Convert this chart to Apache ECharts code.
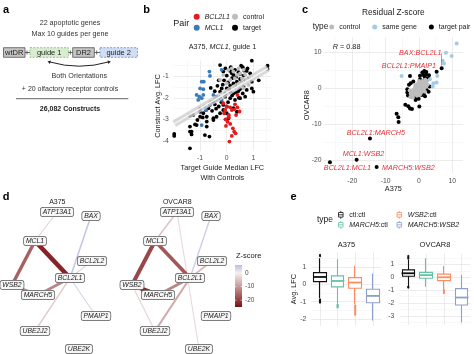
<!DOCTYPE html>
<html>
<head>
<meta charset="utf-8">
<title>Figure</title>
<script src="https://cdn.jsdelivr.net/npm/echarts@6.0.0/dist/echarts.min.js"></script>
<style>
  html, body { margin: 0; padding: 0; background: #fff; }
  #main { width: 474px; height: 354px; }
</style>
</head>
<body>
<div id="main"></div>
<script>
var FONT = 'Liberation Sans';
var TICK = '#4d4d4d';
var MAJOR = '#e4e4e4';
var MINOR = '#f0f0f0';
var LABEL_RED = '#e5323a';

// ---- b: construct LFC vs target guide median LFC (A375, MCL1, guide 1)
var bTarget = [[-0.25,-0.5],[0.54,-0.53],[0.94,-0.3],[1.53,-0.53],[1.53,-0.68],[0.13,-0.77],[-0.13,-0.8],[0,-0.98],[0.19,-0.88],[0.31,-0.72],[0.44,-0.83],[0.75,-0.77],[0.88,-0.88],[0.63,-0.98],[0.82,-1.11],[0.5,-1.14],[0.38,-1.26],[0.25,-1.34],[0.13,-1.44],[0,-1.57],[-0.19,-1.57],[-0.25,-1.72],[0.13,-1.72],[0.25,-1.8],[0.44,-1.69],[0.63,-1.49],[0.75,-1.64],[0.94,-1.26],[0.94,-1.57],[1.0,-1.72],[0.69,-1.95],[0.5,-2.02],[0.31,-2.1],[0.13,-2.02],[-0.06,-1.95],[-0.25,-2.02],[-0.38,-1.95],[-0.5,-2.18],[-0.63,-2.33],[-0.69,-2.48],[-0.78,-2.56],[-0.88,-2.71],[-1.0,-2.64],[-1.26,-2.79],[-1.38,-2.83],[-1.38,-3.55],[-1.32,-3.68],[-1.19,-3.22],[-1.13,-3.25],[-0.75,-2.87],[-0.75,-3.09],[-0.75,-3.32],[-0.82,-3.71],[-0.5,-2.94],[-0.25,-2.71],[-0.13,-2.56],[-0.13,-2.33],[0.25,-2.48],[0.38,-2.64],[0,-2.71],[0.06,-2.94],[-1.38,-4.32],[-1.97,-3.66],[-1.97,-3.75],[-1.38,-3.32],[-1.32,-3.55],[-0.65,-3.78],[-1.0,-2.87],[-1.1,-3.02],[-0.38,-2.87],[-0.5,-3.02],[-0.1,-1.2],[0.05,-1.3],[0.2,-1.1],[0.3,-1.5],[0.4,-1.4],[0.5,-1.6],[0.55,-1.3],[0.6,-1.8],[0.7,-1.2],[0.1,-1.6],[-0.05,-1.8],[-0.15,-1.4],[0.2,-1.9],[0.35,-1.75],[0.45,-2.0],[0.05,-2.2],[-0.2,-2.2],[-0.3,-2.4],[-0.4,-2.5],[-0.45,-2.3],[0.15,-0.6],[0.25,-0.95],[0.35,-1.05],[0.5,-0.9],[0.65,-0.75],[0.78,-0.65],[-0.05,-0.65],[0.0,-2.4],[-0.55,-2.6],[-0.6,-2.2],[-0.9,-2.9],[-1.0,-2.5],[1.2,-1.2],[0.6,-0.6],[-0.3,-1.2],[-0.35,-1.45],[-0.45,-1.7],[-0.6,-1.55]];
var bControl = [[0.06,-0.72],[0.19,-0.65],[0.25,-0.8],[0.38,-0.95],[0.5,-0.88],[0.63,-0.72],[0.69,-0.95],[0.75,-1.18],[0.57,-1.34],[0.44,-1.41],[0.31,-1.11],[0.13,-1.18],[0.25,-1.49],[0.63,-1.57],[0.82,-1.41],[0.88,-1.03],[-0.13,-0.95],[0.44,-0.65],[0.57,-1.11],[0,-1.34],[-0.25,-1.18]];
var bBCL2L1 = [[0,-2.41],[0.13,-2.44],[0.28,-2.53],[0.4,-2.44],[-0.1,-2.71],[0.08,-2.79],[0.35,-2.79],[-0.05,-2.99],[0.03,-3.1],[0.13,-3.2],[-0.03,-3.29],[0.23,-3.4],[0.28,-3.55],[0.33,-3.63],[0.1,-4.01],[0.19,-3.75],[0.48,-2.63],[0.4,-1.87],[-0.06,-2.56],[0.19,-2.56],[0.08,-2.9],[-0.13,-2.25],[0.31,-2.3]];
var bMCL1 = [[-0.65,-0.8],[-0.63,-1.0],[-0.94,-1.26],[-0.86,-1.26],[-1.0,-1.57],[-0.88,-1.61],[-1.13,-1.87],[-1.03,-1.95],[-0.94,-2.02],[-1.07,-2.1],[-0.88,-1.87],[-0.5,-1.87],[-0.44,-2.02],[-0.38,-2.1],[-0.31,-1.95],[-0.82,-2.4],[-0.78,-2.56],[-0.94,-3.25],[-0.19,-2.1],[-0.63,-2.25],[-0.19,-0.72]];
var bFitX = [-1.97, 1.55];
var bFitY = [-3.19, -0.65];
var bMinorX = [-1.5, -0.5, 0.5, 1.5];
var bMinorY = [-3.5, -2.5, -1.5, -0.5];

// ---- c: residual z-scores, A375 vs OVCAR8
var cTarget = [[-2.7,3.4],[0.3,3.5],[1.3,3.7],[2.1,3.9],[1.8,3.1],[2.5,2.5],[0.3,2.5],[1.3,2.1],[-1.7,1.9],[-2.5,1.4],[-3.5,-0.3],[-3.5,-1.2],[-2.5,-1.6],[-1.9,-2.3],[-0.7,-2.5],[-0.1,-2.9],[0.8,-1.9],[1.5,-1.4],[2.3,-0.5],[2.9,-1.0],[-4.1,-4.6],[-3.2,-5.0],[-2.7,-5.6],[-2.1,-5.8],[0.1,-5.1],[-6.7,-7.1],[-6.2,-8.1],[-6.1,-9.4],[3.2,0.5],[2.8,2.8],[-3.0,1.0],[-1.0,-3.3],[1.8,-2.2],[-3.3,-2.0],[2.2,4.5],[3.0,3.6],[1.0,4.4],[1.6,4.8]];
var cControl = [[-2.5,-1.5],[-2.2,-0.8],[-2,-2],[-1.8,-1.2],[-1.6,-0.4],[-1.5,-1.8],[-1.3,-0.9],[-1.2,0.2],[-1,-1.4],[-0.9,-0.3],[-0.8,0.8],[-0.6,-2.1],[-0.5,-0.8],[-0.4,0.4],[-0.3,1.3],[-0.2,-1.5],[-0.1,-0.2],[0,0.9],[0.1,-0.9],[0.2,0.3],[0.3,1.6],[0.4,-0.5],[0.5,0.8],[0.6,-1.3],[0.7,0.1],[0.8,1.2],[0.9,-0.3],[1,2],[1.1,0.6],[1.2,-0.8],[1.3,1.4],[1.4,0.1],[1.6,1.9],[1.7,0.8],[1.9,2.4],[2,1.3],[2.2,0.4],[2.4,2.0],[-1.9,-2.6],[-2.6,-2.4],[-0.7,-1.6],[0.3,-1.8],[1.5,-0.4],[-1.1,1.0],[0.0,2.0],[2.6,1.0],[-2.8,-0.6],[1.8,-1.0]];
var cSameGene = [[11.3,12.5],[8.1,9.9],[9.8,9.0],[7.1,7.7],[7.5,6.9],[-5.2,3.4],[5.5,3.4],[4.3,1.4],[5.3,1.6],[4.1,0.5],[3.3,2.5]];
var cPairNames = ['BAX:BCL2L1','BCL2L1:PMAIP1','BCL2L1:MARCH5','MCL1:WSB2','BCL2L1:MCL1','MARCH5:WSB2'];
var cPairPoints = [[6.8,5.6],[5.3,4.6],[-14.7,-14.0],[-18.7,-19.9],[-26.7,-20.6],[-12.7,-21.9]];
var cMinorX = [-25, -15, -5, 5];
var cMinorY = [-15, -5, 5];

// ---- d: interaction networks
var nodeNames = ['ATP13A1','BAX','MCL1','BCL2L2','BCL2L1','WSB2','MARCH5','PMAIP1','UBE2J2','UBE2K'];
var nodeX = [57, 91, 35, 92, 70, 12, 38, 96, 35, 79];
var nodeY = [212, 216, 241, 261, 278, 285, 295, 316, 331, 349];
var a375From = ['ATP13A1','BCL2L2','UBE2J2','BAX','PMAIP1','WSB2','MARCH5','MCL1','MCL1'];
var a375To   = ['MCL1','BCL2L1','BCL2L1','BCL2L1','BCL2L1','MARCH5','BCL2L1','WSB2','BCL2L1'];
var a375Z    = [-3, -3, -4, 5, 3, -12, -12, -16, -23];
var ovFrom = ['ATP13A1','ATP13A1','WSB2','BAX','BCL2L2','UBE2J2','MARCH5','MCL1','MCL1','WSB2'];
var ovTo   = ['MCL1','UBE2K','UBE2J2','BCL2L1','BCL2L1','BCL2L1','BCL2L1','BCL2L1','WSB2','MARCH5'];
var ovZ    = [-5, -2.5, -3, 4, -6, -8, -12, -17, -19, -22];
var zTicks = [0, -10, -20];

// ---- e: box plots of avg LFC
var boxTypes = ['ctl:ctl','MARCH5:ctl','WSB2:ctl','MARCH5:WSB2'];
var boxColors = ['#111111','#66c2a5','#fc8d62','#8da0cb'];
// [min, Q1, median, Q3, max]
var a375Stats = [[-0.81,0.15,0.42,0.67,1.5],[-1.12,-0.15,0.19,0.48,1.44],[-1.15,-0.23,0.1,0.38,1.06],[-2.08,-1.06,-0.67,-0.29,0.62]];
var ovStats = [[-0.68,0.08,0.31,0.57,1.35],[-0.73,-0.08,0.17,0.38,1.48],[-0.94,-0.26,0.0,0.24,0.88],[-3.48,-2.15,-1.57,-0.88,0.18]];
var a375Out = [[1.62,1.68,-0.88,-0.93,-0.97,-1.01,-1.05],[-1.18,-1.23,-1.28,-1.33],[-1.22,-1.28,-1.35,-1.42,-1.5,-1.58,-1.66,-1.75],[]];
var ovOut = [[1.45,1.55,1.65,-0.74,-0.8],[],[-1.0,-1.07,-1.15,-1.22],[]];
var eMinorA375 = [-1.5, -0.5, 0.5, 1.5];
var eMinorOv = [-3.5, -2.5, -1.5, -0.5, 0.5, 1.5];

// colour scale of the network edges
var zStops = [-25, 0, 6];
var zStopColors = [[123,17,20],[245,240,240],[184,189,226]];
function zColor(z) {
  var i = z < 0 ? 0 : 1;
  var t = (z - zStops[i]) / (zStops[i + 1] - zStops[i]);
  var a = zStopColors[i], b = zStopColors[i + 1];
  return 'rgb(' + [0, 1, 2].map(function (k) { return Math.round(a[k] + (b[k] - a[k]) * t); }).join(',') + ')';
}
function edgeWidth(z) { return 0.7 + 0.17 * Math.abs(z); }

function valAxis(gi, min, max, margin, extra) {
  var ax = {
    type: 'value', gridIndex: gi, min: min, max: max,
    axisLine: { show: false }, axisTick: { show: false },
    axisLabel: { fontSize: 6.8, color: TICK, margin: margin, fontFamily: FONT, showMinLabel: false, showMaxLabel: false },
    splitLine: { show: true, showMinLine: false, showMaxLine: false, lineStyle: { color: MAJOR, width: 0.7 } },
    nameTextStyle: { fontSize: 7.3, color: '#1a1a1a', fontFamily: FONT },
    nameMoveOverlap: false
  };
  return Object.assign(ax, extra || {});
}
function catAxis(gi) {
  return {
    type: 'category', gridIndex: gi, data: boxTypes,
    axisLine: { show: false }, axisTick: { show: false }, axisLabel: { show: false }, splitLine: { show: false }
  };
}
function gridLines(xi, minorX, minorY, catX) {
  var d = [];
  minorX.forEach(function (v) { d.push({ xAxis: v, lineStyle: { color: MINOR, width: 0.5 } }); });
  minorY.forEach(function (v) { d.push({ yAxis: v, lineStyle: { color: MINOR, width: 0.5 } }); });
  catX.forEach(function (v) { d.push({ xAxis: v, lineStyle: { color: MAJOR, width: 0.7 } }); });
  return {
    type: 'scatter', xAxisIndex: xi, yAxisIndex: xi, data: [], silent: true,
    markLine: { silent: true, symbol: 'none', z: 1, label: { show: false }, animation: false,
      lineStyle: { type: 'solid' }, emphasis: { disabled: true }, data: d }
  };
}
function pts(name, data, color, xi, size, z) {
  return { type: 'scatter', name: name, xAxisIndex: xi, yAxisIndex: xi, data: data,
    symbolSize: size, itemStyle: { color: color, opacity: 1 }, z: z || 2, silent: true };
}
function italicGenes(name) {
  return name.split(':').map(function (p) { return (p === 'ctl' || p === 'control' || p === 'target') ? p : '{i|' + p + '}'; }).join(':');
}
function boxSeries(xi, stats, outs) {
  var s = [];
  s.push({
    type: 'candlestick', xAxisIndex: xi, yAxisIndex: xi, barWidth: 13, silent: true, z: 2,
    data: stats.map(function (v, i) {
      return { value: [v[1], v[3], v[0], v[4]],
        itemStyle: { color: '#fff', color0: '#fff', borderColor: boxColors[i], borderColor0: boxColors[i], borderWidth: 1.1 } };
    })
  });
  s.push({
    type: 'scatter', xAxisIndex: xi, yAxisIndex: xi, symbol: 'rect', symbolSize: [13.5, 1.8], silent: true, z: 4,
    data: stats.map(function (v, i) { return { value: [i, v[2]], itemStyle: { color: boxColors[i], opacity: 1 } }; })
  });
  var od = [];
  outs.forEach(function (arr, i) { arr.forEach(function (y) { od.push({ value: [i, y], itemStyle: { color: boxColors[i], opacity: 1 } }); }); });
  s.push({ type: 'scatter', xAxisIndex: xi, yAxisIndex: xi, symbolSize: 2.2, silent: true, z: 4, data: od });
  return s;
}
function network(left, from, to, zs) {
  return {
    type: 'graph', layout: 'none', left: left, top: 212, width: 84, height: 137, roam: false, silent: true,
    symbol: 'rect', symbolSize: 1, itemStyle: { color: 'rgba(0,0,0,0)' },
    label: { show: true, position: 'inside', formatter: '{b}', fontStyle: 'italic', fontSize: 6.8, fontFamily: FONT,
      color: '#222', backgroundColor: '#f6f6f6', borderColor: '#555', borderWidth: 0.7, borderRadius: 2.5,
      padding: [1, 2, 0.5, 2], lineHeight: 7 },
    lineStyle: { opacity: 1, curveness: 0 },
    emphasis: { disabled: true },
    data: nodeNames.map(function (n, i) { return { name: n, x: nodeX[i], y: nodeY[i] }; }),
    links: from.map(function (s, i) {
      return { source: s, target: to[i], lineStyle: { color: zColor(zs[i]), width: edgeWidth(zs[i]) } };
    })
  };
}
function txt(x, y, text, size, opts) {
  return { type: 'text', x: x, y: y, silent: true, z: 10,
    style: Object.assign({ text: text, fontSize: size, fontFamily: FONT, fill: '#1a1a1a', align: 'center', verticalAlign: 'middle' }, opts || {}) };
}

var chartDom = document.getElementById('main');
var myChart = echarts.init(chartDom, null, { renderer: 'canvas' });
var option;

var labelOffsets = [[-21.4, -15], [-27.7, -6.1], [5.9, -5.3], [6.8, -5.7], [17.5, 6], [31.7, 1.4]];
var legendText = { fontSize: 7, color: '#1a1a1a', fontFamily: FONT, lineHeight: 9,
  rich: { i: { fontStyle: 'italic', fontSize: 7, color: '#1a1a1a', fontFamily: FONT } } };
var boxIcon = 'path://M4,0L4,3M0,3L8,3L8,11L0,11ZM0,7L8,7M4,11L4,14';

var zGrad = new echarts.graphic.LinearGradient(0, 0, 0, 1, [
  { offset: 0, color: 'rgb(184,189,226)' },
  { offset: 6 / 31, color: 'rgb(245,240,240)' },
  { offset: 1, color: 'rgb(123,17,20)' }
]);
function zPos(z) { return 265 + (6 - z) * 42 / 31; }

var graphics = [
  // panel letters
  txt(6, 10, 'a', 11, { fontWeight: 'bold', fill: '#000' }),
  txt(146.5, 10, 'b', 11, { fontWeight: 'bold', fill: '#000' }),
  txt(305, 10, 'c', 11, { fontWeight: 'bold', fill: '#000' }),
  txt(6, 197, 'd', 11, { fontWeight: 'bold', fill: '#000' }),
  txt(293.5, 197, 'e', 11, { fontWeight: 'bold', fill: '#000' }),
  // panel a schematic
  txt(70, 23.3, '22 apoptotic genes', 7.2, { fill: '#333' }),
  txt(70, 34.5, 'Max 10 guides per gene', 7.2, { fill: '#333' }),
  { type: 'rect', shape: { x: 3.5, y: 47.7, width: 21.5, height: 9.6 }, style: { fill: '#c4c4c4', stroke: '#555', lineWidth: 0.8 } },
  { type: 'rect', shape: { x: 30, y: 47.7, width: 38.3, height: 9.6 }, style: { fill: '#d9ecd1', stroke: '#80c46e', lineWidth: 0.9, lineDash: [2, 1.4] } },
  { type: 'rect', shape: { x: 72.7, y: 47.7, width: 21.6, height: 9.6 }, style: { fill: '#c4c4c4', stroke: '#555', lineWidth: 0.8 } },
  { type: 'rect', shape: { x: 100, y: 47.7, width: 37.4, height: 9.6 }, style: { fill: '#d0ddf3', stroke: '#6d95d8', lineWidth: 0.9, lineDash: [2, 1.4] } },
  { type: 'line', shape: { x1: 25, y1: 52.5, x2: 30, y2: 52.5 }, style: { stroke: '#444', lineWidth: 0.8 } },
  { type: 'line', shape: { x1: 27, y1: 50.5, x2: 27, y2: 54.5 }, style: { stroke: '#444', lineWidth: 0.8 } },
  { type: 'line', shape: { x1: 68.3, y1: 52.5, x2: 72.7, y2: 52.5 }, style: { stroke: '#444', lineWidth: 0.8 } },
  { type: 'line', shape: { x1: 70.3, y1: 50.5, x2: 70.3, y2: 54.5 }, style: { stroke: '#444', lineWidth: 0.8 } },
  { type: 'line', shape: { x1: 94.3, y1: 52.5, x2: 100, y2: 52.5 }, style: { stroke: '#444', lineWidth: 0.8 } },
  { type: 'line', shape: { x1: 96.7, y1: 50.5, x2: 96.7, y2: 54.5 }, style: { stroke: '#444', lineWidth: 0.8 } },
  txt(14.2, 52.6, 'wtDR', 7.5, { fill: '#222' }),
  txt(49.2, 52.6, 'guide 1', 7.5, { fill: '#222' }),
  txt(83.5, 52.6, 'DR2', 7.5, { fill: '#222' }),
  txt(118.7, 52.6, 'guide 2', 7.5, { fill: '#222' }),
  { type: 'bezierCurve', shape: { x1: 49.5, y1: 61.9, x2: 108.8, y2: 61.9, cpx1: 79.2, cpy1: 70.5 }, style: { stroke: '#222', lineWidth: 1, fill: 'none' } },
  { type: 'polygon', shape: { points: [[47.5, 61.4], [50.9, 60.4], [49.9, 64.1]] }, style: { fill: '#222' } },
  { type: 'polygon', shape: { points: [[110.8, 61.4], [107.4, 60.4], [108.4, 64.1]] }, style: { fill: '#222' } },
  txt(79.3, 76, 'Both Orientations', 7.2, { fill: '#333' }),
  txt(70, 89, '+ 20 olfactory receptor controls', 7, { fill: '#333' }),
  { type: 'line', shape: { x1: 16, y1: 98.7, x2: 128.3, y2: 98.7 }, style: { stroke: '#666', lineWidth: 1 } },
  txt(70, 108.7, '26,082 Constructs', 7, { fill: '#222', fontWeight: 'bold' }),
  // panel b texts
  txt(181.3, 23.3, 'Pair', 9),
  txt(222.5, 46.8, 'A375, {i|MCL1}, guide 1', 7.2, { rich: { i: { fontStyle: 'italic', fontSize: 7.2, fontFamily: FONT, fill: '#1a1a1a' } } }),
  // panel c texts
  txt(393.3, 12.7, 'Residual Z-score', 8.3),
  txt(320.5, 27, 'type', 8.3),
  txt(332.7, 46.7, '{i|R} = 0.88', 7.3, { align: 'left', rich: { i: { fontStyle: 'italic', fontSize: 7.3, fontFamily: FONT, fill: '#1a1a1a' } } }),
  // panel d texts
  txt(57.3, 202.3, 'A375', 7),
  txt(177.3, 202.3, 'OVCAR8', 7),
  txt(236, 256, 'Z-score', 7.5, { align: 'left' }),
  { type: 'rect', shape: { x: 235, y: 265, width: 7, height: 42 }, style: { fill: zGrad } },
  // panel e texts
  txt(325, 219.8, 'type', 8.5),
  txt(346.4, 245, 'A375', 7.5),
  txt(435, 245, 'OVCAR8', 7.5)
];
zTicks.forEach(function (z) {
  var y = zPos(z);
  graphics.push({ type: 'line', shape: { x1: 235, y1: y, x2: 236.4, y2: y }, style: { stroke: '#fff', lineWidth: 0.6 } });
  graphics.push({ type: 'line', shape: { x1: 240.6, y1: y, x2: 242, y2: y }, style: { stroke: '#fff', lineWidth: 0.6 } });
  graphics.push(txt(245, y, String(z), 6.5, { align: 'left', fill: TICK }));
});

var series = [
  gridLines(0, bMinorX, bMinorY, []),
  pts('target', bTarget, '#000', 0, 3.8),
  pts('control', bControl, '#bdbdbd', 0, 3.8),
  pts('BCL2L1', bBCL2L1, '#e41a1c', 0, 3.8),
  pts('MCL1', bMCL1, '#3a7bb8', 0, 3.8),
  { type: 'line', xAxisIndex: 0, yAxisIndex: 0, data: bFitX.map(function (x, i) { return [x, bFitY[i]]; }),
    symbol: 'none', silent: true, z: 3, lineStyle: { color: '#cfcfcf', width: 7, opacity: 0.8, cap: 'butt' } },
  { type: 'line', xAxisIndex: 0, yAxisIndex: 0, data: bFitX.map(function (x, i) { return [x, bFitY[i]]; }),
    symbol: 'none', silent: true, z: 3, lineStyle: { color: '#f6f6f6', width: 1.3 } },

  gridLines(1, cMinorX, cMinorY, []),
  pts('target pair', cTarget, '#000', 1, 4),
  pts('control', cControl, '#bdbdbd', 1, 4),
  pts('same gene', cSameGene, '#a3cbe4', 1, 4),
  { type: 'scatter', name: 'target pair', xAxisIndex: 1, yAxisIndex: 1, symbolSize: 4, silent: true, z: 3,
    itemStyle: { color: '#000', opacity: 1 },
    label: { show: true, position: 'inside', formatter: '{b}', color: LABEL_RED, opacity: 1, fontStyle: 'italic', fontSize: 7.2, fontFamily: FONT },
    labelLine: { show: false },
    labelLayout: function (p) { return { dx: labelOffsets[p.dataIndex][0], dy: labelOffsets[p.dataIndex][1] }; },
    data: cPairPoints.map(function (v, i) {
      return { name: cPairNames[i], value: v, labelLine: { show: i === 0, lineStyle: { color: LABEL_RED, width: 0.6, opacity: 1 } } };
    })
  },

  network(12, a375From, a375To, a375Z),
  network(132, ovFrom, ovTo, ovZ),

  gridLines(2, [], eMinorA375, boxTypes),
  gridLines(3, [], eMinorOv, boxTypes)
].concat(boxSeries(2, a375Stats, a375Out), boxSeries(3, ovStats, ovOut));

boxTypes.forEach(function (t, i) {
  series.push({ type: 'scatter', name: t, xAxisIndex: 2, yAxisIndex: 2, data: [], silent: true,
    itemStyle: { color: '#fff', borderColor: boxColors[i], borderWidth: 1 } });
});

option = {
  animation: false,
  backgroundColor: '#fff',
  textStyle: { fontFamily: FONT },
  tooltip: { show: false },
  grid: [
    { left: 173.7, top: 60.7, width: 97.3, height: 90.5, outerBoundsMode: 'none' },
    { left: 323.6, top: 37.3, width: 139.4, height: 135.7, outerBoundsMode: 'none' },
    { left: 311.2, top: 252.1, width: 70.4, height: 73.9, outerBoundsMode: 'none' },
    { left: 399.4, top: 253.4, width: 71.2, height: 71.6, outerBoundsMode: 'none' }
  ],
  xAxis: [
    valAxis(0, -1.99, 1.66, 3, { name: 'Target Guide Median LFC\nWith Controls', nameLocation: 'middle', nameGap: 12,
      nameTextStyle: { fontSize: 7.3, color: '#1a1a1a', fontFamily: FONT, lineHeight: 10 } }),
    valAxis(1, -28.6, 13.2, 4.5, { name: 'A375', nameLocation: 'middle', nameGap: 12 }),
    catAxis(2),
    catAxis(3)
  ],
  yAxis: [
    valAxis(0, -4.45, -0.3, 5, { name: 'Construct Avg. LFC', nameLocation: 'middle', nameGap: 12 }),
    valAxis(1, -23.6, 14.2, 2, { name: 'OVCAR8', nameLocation: 'middle', nameGap: 13.5 }),
    valAxis(2, -2.4, 1.85, 5, { name: 'Avg. LFC', nameLocation: 'middle', nameGap: 13.7 }),
    valAxis(3, -3.7, 1.85, 5)
  ],
  legend: [
    { orient: 'vertical', left: 193.7, top: 12.3, padding: 0, itemGap: 2, itemWidth: 6, itemHeight: 6, icon: 'circle',
      selectedMode: false, data: ['BCL2L1', 'MCL1'], textStyle: legendText, formatter: italicGenes },
    { orient: 'vertical', left: 232, top: 12.3, padding: 0, itemGap: 2, itemWidth: 6, itemHeight: 6, icon: 'circle',
      selectedMode: false, data: ['control', 'target'], textStyle: legendText },
    { orient: 'horizontal', left: 329.2, top: 22.5, padding: 0, itemGap: 12, itemWidth: 5, itemHeight: 5, icon: 'circle',
      selectedMode: false, data: ['control', 'same gene', 'target pair'], textStyle: legendText },
    { orient: 'vertical', left: 338, top: 210.3, padding: 0, itemGap: 1, itemWidth: 7, itemHeight: 8, icon: boxIcon,
      selectedMode: false, data: ['ctl:ctl', 'MARCH5:ctl'], textStyle: Object.assign({}, legendText, { lineHeight: 8 }),
      formatter: italicGenes, itemStyle: { color: '#fff', borderWidth: 1 } },
    { orient: 'vertical', left: 396.5, top: 210.3, padding: 0, itemGap: 1, itemWidth: 7, itemHeight: 8, icon: boxIcon,
      selectedMode: false, data: ['WSB2:ctl', 'MARCH5:WSB2'], textStyle: Object.assign({}, legendText, { lineHeight: 8 }),
      formatter: italicGenes, itemStyle: { color: '#fff', borderWidth: 1 } }
  ],
  graphic: { elements: graphics },
  series: series
};

option && myChart.setOption(option);
</script>
</body>
</html>
